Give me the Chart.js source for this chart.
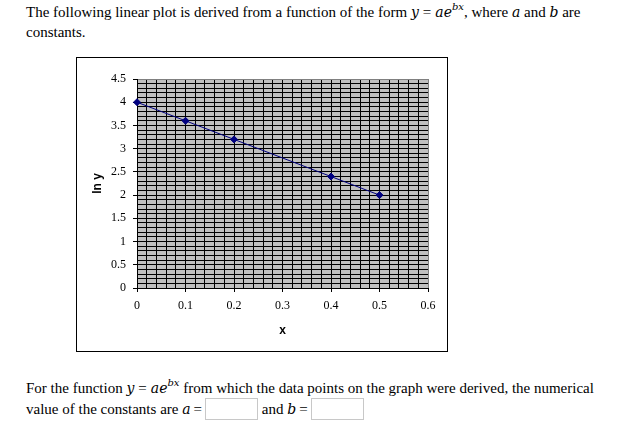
<!DOCTYPE html>
<html>
<head>
<meta charset="utf-8">
<script src="https://cdn.jsdelivr.net/npm/chart.js@4.4.0/dist/chart.umd.min.js"></script>
<style>
  body { margin: 0; background: #fff; font-family: "Liberation Serif", "Times New Roman", serif; font-size: 15px; color: #000; }
  .txt { position: absolute; left: 26px; line-height: 20px; white-space: nowrap; }
  .m { font-style: italic; font-family: "DejaVu Serif", serif; font-size: 14px; }
  .eq { margin: 0 4px; font-size: 15px; }
  .eq2 { margin: 0 3px; font-size: 15px; }
  sup { font-size: 10px; font-style: italic; font-family: "DejaVu Serif", serif; vertical-align: 7px; line-height: 0; }
  .box { display: inline-block; width: 51px; height: 20px; border: 1px solid #c8c8c8; vertical-align: -6px; }
  #frame { position: absolute; left: 76px; top: 57px; width: 370px; height: 293px; border: 1px solid #000; }
</style>
</head>
<body>
<div class="txt" style="top:2px">The following linear plot is derived from a function of the form <span class="m">y</span><span class="eq">=</span><span class="m">ae</span><sup>bx</sup>, where <span class="m">a</span> and <span class="m">b</span> are<br>constants.</div>

<div id="frame"><canvas id="lnChart" width="370" height="293"></canvas></div>

<div class="txt" style="top:378px">For the function <span class="m">y</span><span class="eq">=</span><span class="m">ae</span><sup>bx</sup> from which the data points on the graph were derived, the numerical<br>value of the constants are <span class="m">a</span><span class="eq2">=</span><span class="box"></span> and <span class="m">b</span><span class="eq2">=</span><span class="box"></span></div>

<script>
// valores
const xValues = [0, 0.1, 0.2, 0.4, 0.5]
const lnYValues = [4, 3.6, 3.2, 2.4, 2.0]
const xTickLabels = ['0', '0.1', '0.2', '0.3', '0.4', '0.5', '0.6']
const yTickLabels = ['0', '0.5', '1', '1.5', '2', '2.5', '3', '3.5', '4', '4.5']

const plotBackground = {
  id: 'plotBackground',
  beforeDraw(chart) {
    const { ctx, chartArea: a } = chart
    ctx.save()
    ctx.fillStyle = '#c0c0c0'
    ctx.fillRect(a.left, a.top, a.right - a.left, a.bottom - a.top)
    ctx.restore()
  }
}

const tickFont = { family: '"Liberation Serif", "Times New Roman", serif', size: 12 }
const titleFont = { family: '"Liberation Sans", Arial, sans-serif', size: 12, weight: 'bold' }

const ctx = document.getElementById('lnChart')
new Chart(ctx, {
  type: 'scatter',
  data: {
    datasets: [{
      data: xValues.map((x, i) => ({ x: x, y: lnYValues[i] })),
      showLine: true,
      borderColor: '#000080',
      backgroundColor: '#000080',
      borderWidth: 1,
      pointStyle: 'rectRot',
      pointRadius: 3.5,
      pointBorderWidth: 1,
      clip: false
    }]
  },
  options: {
    responsive: false,
    animation: false,
    layout: { padding: { top: 21, right: 19, left: 0, bottom: 0 } },
    plugins: { legend: { display: false }, tooltip: { enabled: false } },
    scales: {
      x: {
        type: 'linear',
        min: 0,
        max: 0.6,
        afterFit: s => { s.height = 63 },
        ticks: {
          stepSize: 0.02,
          autoSkip: false,
          maxRotation: 0,
          padding: 7,
          color: '#000',
          font: tickFont,
          callback: v => xTickLabels.includes(String(v)) ? String(v) : ''
        },
        grid: {
          color: c => (c.tick && c.tick.value >= 0.599) ? '#808080' : '#000',
          tickColor: c => (c.tick && xTickLabels.includes(String(c.tick.value))) ? '#000' : 'rgba(0,0,0,0)',
          tickLength: 4,
          lineWidth: 1
        },
        border: { color: '#000' },
        title: { display: true, text: 'x', color: '#000', font: titleFont, padding: { top: 0, bottom: 13 } }
      },
      y: {
        min: 0,
        max: 4.5,
        afterFit: s => { s.width = 60 },
        ticks: {
          stepSize: 0.1,
          autoSkip: false,
          padding: 7,
          color: '#000',
          font: tickFont,
          callback: v => yTickLabels.includes(String(v)) ? String(v) : ''
        },
        grid: {
          color: c => (c.tick && c.tick.value >= 4.499) ? '#808080' : '#000',
          tickColor: c => (c.tick && yTickLabels.includes(String(c.tick.value))) ? '#000' : 'rgba(0,0,0,0)',
          tickLength: 4,
          lineWidth: 1
        },
        border: { color: '#000' },
        title: { display: true, text: 'ln y', color: '#000', font: titleFont, padding: { top: 13, bottom: 0 } }
      }
    }
  },
  plugins: [plotBackground]
})
</script>
</body>
</html>
